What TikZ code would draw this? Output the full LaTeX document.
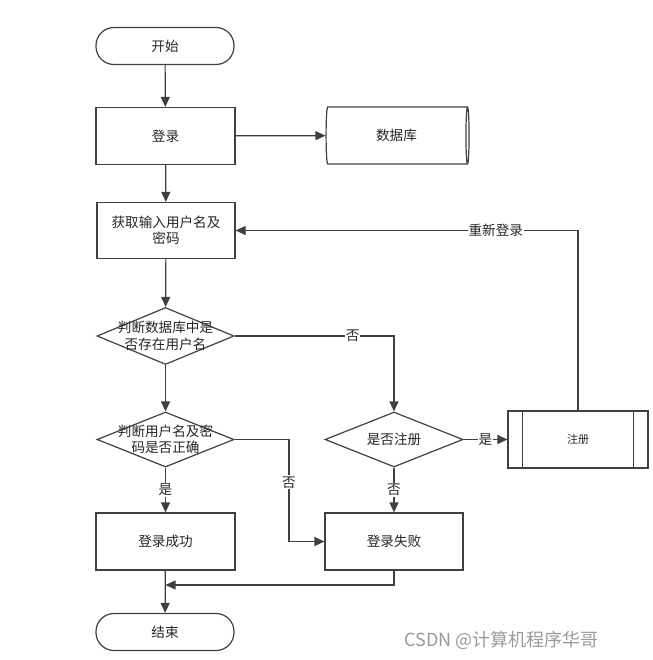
\documentclass[tikz,border=0pt]{standalone}
\usepackage{fontspec}
\setmainfont{Noto Sans CJK SC}
\usetikzlibrary{shapes.geometric,arrows.meta}
\definecolor{lc}{HTML}{404040}
\definecolor{tc}{HTML}{262626}
\definecolor{wm}{HTML}{9A9A9A}
\begin{document}
\begin{tikzpicture}[x=1pt,y=-1pt,
 every node/.style={font=\fontsize{13.6}{16.5}\selectfont, text=tc},
 box/.style={draw=lc, line width=1.2pt, fill=white, minimum width=139pt, minimum height=57pt, inner sep=0pt, align=center},
 term/.style={box, rounded corners=18pt, minimum width=138pt, minimum height=37pt},
 dec/.style={draw=lc, line width=1.2pt, diamond, minimum width=137pt, minimum height=57pt, inner sep=0pt},
 conn/.style={draw=lc, line width=1.2pt, -{Triangle[length=10pt,width=9pt]}},
 plain/.style={draw=lc, line width=1.2pt},
 lab/.style={fill=white, inner sep=1pt}
]
\useasboundingbox (0,0) rectangle (652,660);
\fill[white] (0,0) rectangle (652,660);

\node[term] (start) at (165,46) {开始};
\node[box] (login) at (165.5,136) {登录};
\node[draw=lc, line width=1.2pt, cylinder, shape aspect=0.25, minimum width=57pt, minimum height=143pt, inner sep=0pt] (db) at (396.5,135.5) {数据库};
\node[box, minimum width=138pt, minimum height=56pt] (get) at (166,230.5) {获取输入用户名及\\密码};
\node[dec] (d1) at (165.5,336) {};
\node[align=center] at (d1) {判断数据库中是\\否存在用户名};
\node[dec, minimum height=55pt] (d2) at (165.5,439.5) {};
\node[align=center] at (d2) {判断用户名及密\\码是否正确};
\node[box] (succ) at (165.5,541.5) {登录成功};
\node[box, minimum width=138pt] (fail) at (394,541.5) {登录失败};
\node[dec, minimum width=138pt, minimum height=55pt] (d3) at (394,439.5) {};
\node at (d3) {是否注册};
\node[box, minimum width=140pt, font=\fontsize{11}{13}\selectfont] (reg) at (578,439.5) {注册};
\draw[plain] ([xshift=15pt]reg.north west) -- ([xshift=15pt]reg.south west);
\draw[plain] ([xshift=-15pt]reg.north east) -- ([xshift=-15pt]reg.south east);
\node[term] (end) at (165,632) {结束};

\coordinate (k1) at (289,439.5);
\coordinate (j) at (165.5,585);

\draw[conn] (start) -- (login);
\draw[conn] (login) -- (db);
\draw[conn] (login) -- (get);
\draw[conn] (get) -- (d1);
\draw[conn] (d1) -- (d2);
\draw[conn] (d2) -- node[lab] {是} (succ);
\draw[conn] (d1.east) -| node[lab, pos=0.37] {否} (d3.north);
\draw[conn] (d3) -- node[lab] {是} (reg);
\draw[conn] (d3) -- node[lab] {否} (fail);
\draw[conn] (d2.east) -- (k1) |- node[lab, pos=0.21] {否} (fail.west);
\draw[conn] (reg.north) |- node[lab, pos=0.62] {重新登录} (get.east);
\draw[conn] (succ) -- (end);
\draw[conn] (fail.south) |- (j);

\node[text=wm, font=\fontsize{18}{20}\selectfont, anchor=east] (wmk) at (602,640) {CSDN @计算机程序华哥};
\end{tikzpicture}
\end{document}
